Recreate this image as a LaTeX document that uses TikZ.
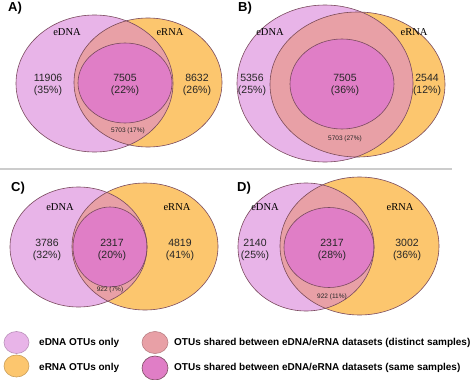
\documentclass[tikz,border=0pt]{standalone}
\usepackage{fontspec}
\setmainfont{Liberation Serif}
\setsansfont{Liberation Sans}
\definecolor{cdna}{HTML}{E8B4E8}
\definecolor{crna}{HTML}{FCC66E}
\definecolor{cdist}{HTML}{E8A0A6}
\definecolor{csame}{HTML}{E07EC6}
\definecolor{cline}{HTML}{7A4A5E}
\definecolor{csep}{HTML}{CCCCCC}
\tikzset{
  outl/.style={draw=cline, line width=0.6pt},
  setlab/.style={font=\fontsize{10.5}{12}\selectfont, inner sep=0pt},
  numlab/.style={font=\sffamily\fontsize{10.5}{11.5}\selectfont, align=center, inner sep=0pt, text=black!85},
  smalllab/.style={font=\sffamily\fontsize{6.5}{7}\selectfont, inner sep=0pt, text=black!85},
  paneltag/.style={font=\sffamily\bfseries\fontsize{13}{14}\selectfont, inner sep=0pt, anchor=west},
  legtext/.style={font=\sffamily\bfseries\fontsize{10}{12}\selectfont, inner sep=0pt, anchor=west},
}
% venn: #1 dna center, #2 dna radii, #3 rna center, #4 rna radii, #5 inner center, #6 inner radii
\newcommand{\myvenn}[6]{%
  \fill[cdna] #1 ellipse[#2];
  \fill[crna] #3 ellipse[#4];
  \begin{scope}
    \clip #1 ellipse[#2];
    \fill[cdist] #3 ellipse[#4];
  \end{scope}
  \fill[csame] #5 ellipse[#6];
  \draw[outl] #1 ellipse[#2];
  \draw[outl] #3 ellipse[#4];
  \draw[outl] #5 ellipse[#6];
}
\begin{document}
\begin{tikzpicture}[x=1pt,y=-1pt]
\useasboundingbox[fill=white] (0,0) rectangle (474,380);
% Panel A
\myvenn{(94.5,83.5)}{x radius=78.5, y radius=68.5}{(148,82.5)}{x radius=74, y radius=64.5}{(125,83)}{x radius=47, y radius=40}
\node[paneltag] (tA) at (8,8) {A)};
\node[setlab] (dA) at (67,32) {eDNA};
\node[setlab] (rA) at (170,32) {eRNA};
\node[numlab] (nA1) at (48,85) {11906\\(35\%)};
\node[numlab] (nA2) at (125,85) {7505\\(22\%)};
\node[numlab] (nA3) at (197,85) {8632\\(26\%)};
\node[smalllab] (nA4) at (128,131) {5703 (17\%)};
% Panel B
\myvenn{(325,83.5)}{x radius=88, y radius=78.5}{(357.5,84.5)}{x radius=87.5, y radius=72.5}{(342,84)}{x radius=52, y radius=45}
\node[paneltag] (tB) at (238,8) {B)};
\node[setlab] (dB) at (270,32) {eDNA};
\node[setlab] (rB) at (414,32) {eRNA};
\node[numlab] (nB1) at (252,85) {5356\\(25\%)};
\node[numlab] (nB2) at (345,85) {7505\\(36\%)};
\node[numlab] (nB3) at (427,85) {2544\\(12\%)};
\node[smalllab] (nB4) at (345,139) {5703 (27\%)};
% separator
\draw[csep, line width=1.5pt] (0,169) -- (452,169);
% Panel C
\myvenn{(78.5,247)}{x radius=68.5, y radius=60}{(145,246.5)}{x radius=73, y radius=63.5}{(110,247)}{x radius=37, y radius=40}
\node[paneltag] (tC) at (11,188) {C)};
\node[setlab] (dC) at (60,207) {eDNA};
\node[setlab] (rC) at (177,207) {eRNA};
\node[numlab] (nC1) at (47,250) {3786\\(32\%)};
\node[numlab] (nC2) at (112,250) {2317\\(20\%)};
\node[numlab] (nC3) at (180,250) {4819\\(41\%)};
\node[smalllab] (nC4) at (110,290) {922 (7\%)};
% Panel D
\myvenn{(306,247)}{x radius=68, y radius=64}{(359.5,246)}{x radius=79.5, y radius=69}{(329,247.5)}{x radius=45, y radius=40}
\node[paneltag] (tD) at (237,188) {D)};
\node[setlab] (dD) at (265,207) {eDNA};
\node[setlab] (rD) at (400,207) {eRNA};
\node[numlab] (nD1) at (255,250) {2140\\(25\%)};
\node[numlab] (nD2) at (332,250) {2317\\(28\%)};
\node[numlab] (nD3) at (407,250) {3002\\(36\%)};
\node[smalllab] (nD4) at (332,297) {922 (11\%)};
% Legend
\fill[cdna] (16.5,342.5) ellipse[x radius=12.5, y radius=11];
\draw[outl, draw=cdna!80!black] (16.5,342.5) ellipse[x radius=12.5, y radius=11];
\fill[crna] (16.5,366) ellipse[x radius=12.5, y radius=11];
\draw[outl, draw=crna!80!black] (16.5,366) ellipse[x radius=12.5, y radius=11];
\fill[cdist] (155,342.5) ellipse[x radius=13, y radius=11];
\draw[outl, draw=cdist!80!black] (155,342.5) ellipse[x radius=13, y radius=11];
\fill[csame] (155,368) ellipse[x radius=13, y radius=12];
\draw[outl] (155,368) ellipse[x radius=13, y radius=12];
\node[legtext] (l1) at (39,343) {eDNA OTUs only};
\node[legtext] (l2) at (39,368) {eRNA OTUs only};
\node[legtext] (l3) at (174,343) {OTUs shared between eDNA/eRNA datasets (distinct samples)};
\node[legtext] (l4) at (174,368) {OTUs shared between eDNA/eRNA datasets (same samples)};
\end{tikzpicture}
\end{document}
